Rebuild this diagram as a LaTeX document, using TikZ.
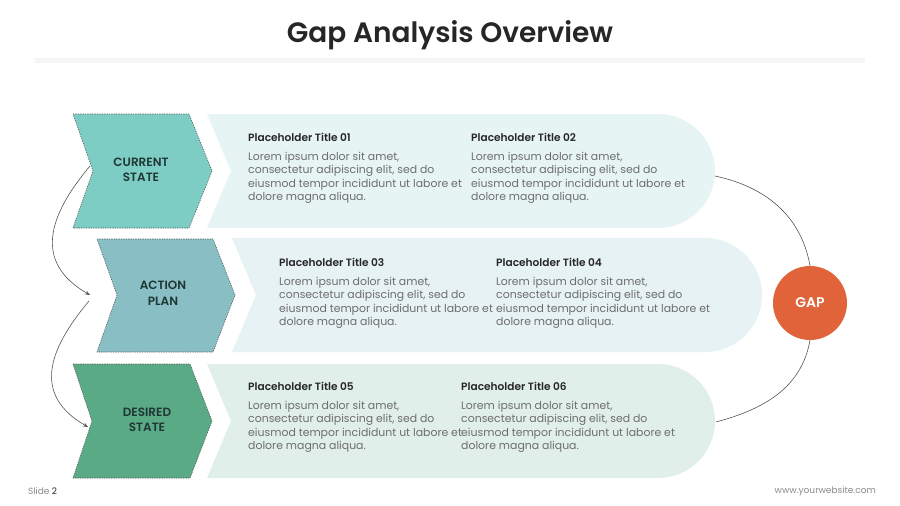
\documentclass[tikz,border=0pt]{standalone}
\usepackage{fontspec}
\setmainfont{Poppins}[BoldFont={Poppins SemiBold}]
\usetikzlibrary{arrows.meta}
\definecolor{chevA}{HTML}{7ECDC5}
\definecolor{chevB}{HTML}{88BEC4}
\definecolor{chevC}{HTML}{5BAA86}
\definecolor{bandA}{HTML}{E6F4F3}
\definecolor{bandB}{HTML}{E6F2F3}
\definecolor{bandC}{HTML}{E0EFEA}
\definecolor{gapc}{HTML}{E0633A}
\definecolor{titlec}{HTML}{262626}
\definecolor{labc}{HTML}{1F3634}
\definecolor{bodyc}{HTML}{6E6E6E}
\definecolor{rulec}{HTML}{F5F5F5}
\definecolor{connc}{HTML}{555555}
\definecolor{footc}{HTML}{8A8A8A}
\newcommand{\loremtext}{Lorem ipsum dolor sit amet,\\consectetur adipiscing elit, sed do\\eiusmod tempor incididunt ut labore et\\dolore magna aliqua.}
\begin{document}
\begin{tikzpicture}[x=1pt,y=-1pt,
  chev/.style={draw=connc, dash pattern=on 1.2pt off 1.2pt, line width=0.6pt},
  lab/.style={font=\fontsize{12}{15.5}\selectfont\bfseries, text=labc, align=center, inner sep=0pt},
  ptitle/.style={font=\fontsize{10.6}{12}\selectfont\bfseries, text=titlec, anchor=west, inner sep=0pt},
  pbody/.style={font=\fontsize{10.9}{13.4}\selectfont, text=bodyc, anchor=north west, align=left, inner sep=0pt},
  conn/.style={draw=connc, line width=0.6pt},
  foot/.style={font=\fontsize{9}{11}\selectfont, text=footc, inner sep=0pt}]
\useasboundingbox (0,0) rectangle (900,506);
\fill[white] (0,0) rectangle (900,506);
% title
\node[font=\fontsize{28}{32}\selectfont\bfseries, text=titlec] (title) at (450,35) {Gap Analysis Overview};
\fill[rulec] (35,58) rectangle (865,63);
% bands
\fill[bandA] (207,114) -- (658,114) arc[start angle=-90,end angle=90,radius=57] -- (207,228) -- (231,171) -- cycle;
\fill[bandB] (232,238) -- (705,238) arc[start angle=-90,end angle=90,radius=57] -- (232,352) -- (256,295) -- cycle;
\fill[bandC] (207,364) -- (658,364) arc[start angle=-90,end angle=90,radius=57] -- (207,478) -- (231,421) -- cycle;
% chevrons
\filldraw[chev, fill=chevA] (73,114) -- (189,114) -- (212,171) -- (189,228) -- (73,228) -- (93,171) -- cycle;
\filldraw[chev, fill=chevB] (97,239) -- (213,239) -- (235,295) -- (213,352) -- (97,352) -- (117,295) -- cycle;
\filldraw[chev, fill=chevC] (73,364) -- (190,364) -- (212,421) -- (190,478) -- (73,478) -- (92,421) -- cycle;
\node[lab] (l1) at (141,170) {CURRENT\\STATE};
\node[lab] (l2) at (163,293) {ACTION\\PLAN};
\node[lab] (l3) at (147,420) {DESIRED\\STATE};
% texts
\node[ptitle] (t1) at (248,137) {Placeholder Title 01};
\node[pbody] (b1) at (248,152) {\loremtext};
\node[ptitle] (t2) at (471,137) {Placeholder Title 02};
\node[pbody] (b2) at (471,152) {\loremtext};
\node[ptitle] (t3) at (279,262) {Placeholder Title 03};
\node[pbody] (b3) at (279,277) {\loremtext};
\node[ptitle] (t4) at (496,262) {Placeholder Title 04};
\node[pbody] (b4) at (496,277) {\loremtext};
\node[ptitle] (t5) at (248,386) {Placeholder Title 05};
\node[pbody] (b5) at (248,401) {\loremtext};
\node[ptitle] (t6) at (461,386) {Placeholder Title 06};
\node[pbody] (b6) at (461,401) {\loremtext};
% gap
\node[circle, fill=gapc, minimum size=74pt, inner sep=0pt, text=white, font=\fontsize{14}{16}\selectfont\bfseries] (gap) at (810,303) {GAP};
\coordinate (c1) at (715,176);
\coordinate (c3) at (716,422);
\draw[conn] (c1) to[out=-12,in=100] (gap.north);
\draw[conn] (gap.south) to[out=-100,in=15] (c3);
% left arrows
\coordinate (a1s) at (90,166);
\coordinate (a1e) at (90,295);
\coordinate (a2s) at (89,301);
\coordinate (a2e) at (88,427);
\draw[conn, -{Stealth[length=5pt,width=4pt]}] (a1s) to[out=-130,in=150,looseness=1.3] (a1e);
\draw[conn, -{Stealth[length=5pt,width=4pt]}] (a2s) to[out=-130,in=150,looseness=1.3] (a2e);
% footer
\node[foot, anchor=west] (slide) at (28,491) {Slide \textcolor{titlec}{2}};
\node[foot, anchor=east] (web) at (876,491) {www.yourwebsite.com};
\end{tikzpicture}
\end{document}
